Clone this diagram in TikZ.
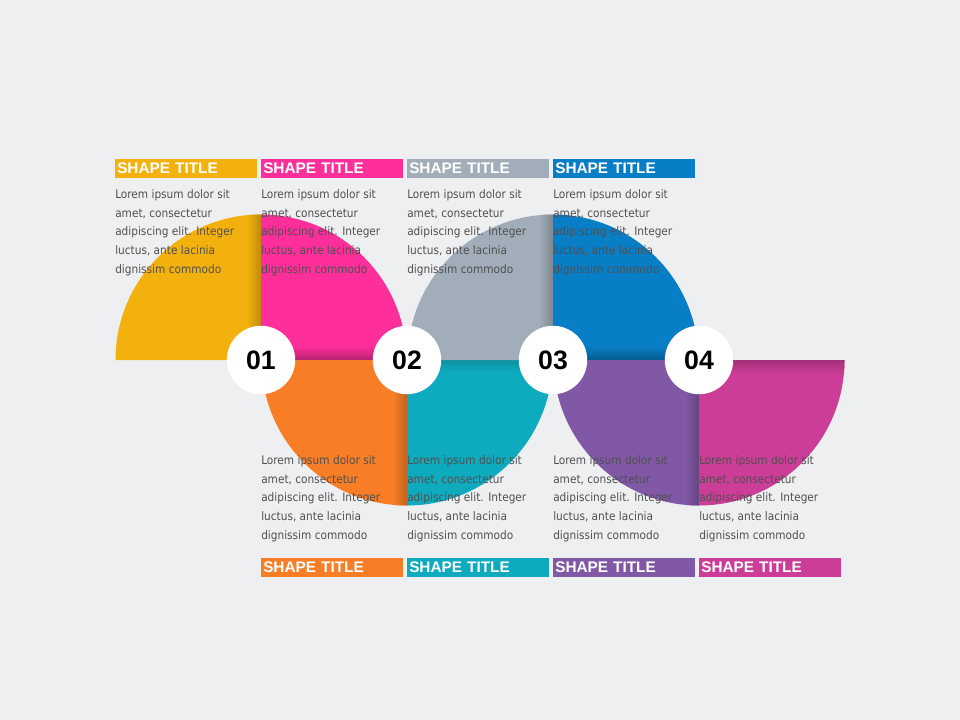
\documentclass[tikz,border=0pt]{standalone}
\usepackage{fontspec}
\setmainfont{DejaVu Sans Condensed}
\newfontfamily\headfont{Liberation Sans}
\usepackage{xcolor}
\definecolor{bgGray}{HTML}{EEEFF1}
\definecolor{txtGray}{HTML}{505050}
\definecolor{qYellow}{HTML}{F3B10D}
\definecolor{qPink}{HTML}{FE2E9B}
\definecolor{qGray}{HTML}{A1AEB9}
\definecolor{qBlue}{HTML}{087EC6}
\definecolor{qOrange}{HTML}{F77E26}
\definecolor{qTeal}{HTML}{0EAABE}
\definecolor{qPurple}{HTML}{8158A5}
\definecolor{qMagenta}{HTML}{CB3D97}
\newcommand{\loremblock}{Lorem ipsum dolor sit\\amet, consectetur\\adipiscing elit. Integer\\luctus, ante lacinia\\dignissim commodo}
\tikzset{
  titlebar/.style={fill=#1, text=white, anchor=north west, inner xsep=1.5pt, inner ysep=0pt,
    minimum height=14pt, text width=103.5pt, align=left,
    font=\headfont\bfseries\fontsize{11.5}{12}\selectfont},
  bodytext/.style={anchor=north west, inner sep=0pt, text=txtGray, align=left,
    font=\fontsize{8.8}{14}\selectfont},
  numdisc/.style={circle, fill=white, minimum size=51.3pt, inner sep=0pt,
    font=\headfont\bfseries\fontsize{20}{20}\selectfont}
}

\begin{document}
\begin{tikzpicture}[x=0.75pt,y=0.75pt,yscale=-1,xscale=1]
%set diagram to the full slide
\useasboundingbox (0,0) rectangle (960,720);
\fill[bgGray] (0,0) rectangle (960,720);

\coordinate (c1) at (261,360);
\coordinate (c2) at (407,360);
\coordinate (c3) at (553,360);
\coordinate (c4) at (699,360);

%Shape: Quarter yellow
\fill[qYellow] (c1) -- ++(180:145.5) arc[start angle=180,end angle=270,radius=145.5] -- cycle;
\begin{scope}
\clip (c1) -- ++(180:145.5) arc[start angle=180,end angle=270,radius=145.5] -- cycle;
\shade[left color=qYellow, right color=qYellow!78!black] (247,214) rectangle (261,360);
\end{scope}
%Shape: Quarter pink
\fill[qPink] (c1) -- ++(270:145.5) arc[start angle=270,end angle=360,radius=145.5] -- cycle;
\begin{scope}
\clip (c1) -- ++(270:145.5) arc[start angle=270,end angle=360,radius=145.5] -- cycle;
\shade[top color=qPink, bottom color=qPink!72!black] (261,346) rectangle (407,360);
\end{scope}
%Shape: Quarter orange
\fill[qOrange] (c2) -- ++(90:145.5) arc[start angle=90,end angle=180,radius=145.5] -- cycle;
\begin{scope}
\clip (c2) -- ++(90:145.5) arc[start angle=90,end angle=180,radius=145.5] -- cycle;
\shade[left color=qOrange, right color=qOrange!78!black] (393,360) rectangle (407,506);
\end{scope}
%Shape: Quarter teal
\fill[qTeal] (c2) -- ++(0:145.5) arc[start angle=0,end angle=90,radius=145.5] -- cycle;
\begin{scope}
\clip (c2) -- ++(0:145.5) arc[start angle=0,end angle=90,radius=145.5] -- cycle;
\shade[top color=qTeal!85!black, bottom color=qTeal] (407,360) rectangle (553,372);
\end{scope}
%Shape: Quarter gray
\fill[qGray] (c3) -- ++(180:145.5) arc[start angle=180,end angle=270,radius=145.5] -- cycle;
\begin{scope}
\clip (c3) -- ++(180:145.5) arc[start angle=180,end angle=270,radius=145.5] -- cycle;
\shade[left color=qGray, right color=qGray!78!black] (539,214) rectangle (553,360);
\end{scope}
%Shape: Quarter blue
\fill[qBlue] (c3) -- ++(270:145.5) arc[start angle=270,end angle=360,radius=145.5] -- cycle;
\begin{scope}
\clip (c3) -- ++(270:145.5) arc[start angle=270,end angle=360,radius=145.5] -- cycle;
\shade[top color=qBlue, bottom color=qBlue!72!black] (553,346) rectangle (699,360);
\end{scope}
%Shape: Quarter purple
\fill[qPurple] (c4) -- ++(90:145.5) arc[start angle=90,end angle=180,radius=145.5] -- cycle;
\begin{scope}
\clip (c4) -- ++(90:145.5) arc[start angle=90,end angle=180,radius=145.5] -- cycle;
\shade[left color=qPurple, right color=qPurple!78!black] (685,360) rectangle (699,506);
\end{scope}
%Shape: Quarter magenta
\fill[qMagenta] (c4) -- ++(0:145.5) arc[start angle=0,end angle=90,radius=145.5] -- cycle;
\begin{scope}
\clip (c4) -- ++(0:145.5) arc[start angle=0,end angle=90,radius=145.5] -- cycle;
\shade[top color=qMagenta!80!black, bottom color=qMagenta] (699,360) rectangle (845,374);
\end{scope}

% Title Nodes
\node[titlebar=qYellow] (t1) at (115,159) {SHAPE TITLE};
\node[titlebar=qPink] (t2) at (261,159) {SHAPE TITLE};
\node[titlebar=qGray] (t3) at (407,159) {SHAPE TITLE};
\node[titlebar=qBlue] (t4) at (553,159) {SHAPE TITLE};
\node[titlebar=qOrange] (t5) at (261,558) {SHAPE TITLE};
\node[titlebar=qTeal] (t6) at (407,558) {SHAPE TITLE};
\node[titlebar=qPurple] (t7) at (553,558) {SHAPE TITLE};
\node[titlebar=qMagenta] (t8) at (699,558) {SHAPE TITLE};

% Text Nodes
\node[bodytext] (b1) at (115,189.2) {\loremblock};
\node[bodytext] (b2) at (261,189.2) {\loremblock};
\node[bodytext] (b3) at (407,189.2) {\loremblock};
\node[bodytext] (b4) at (553,189.2) {\loremblock};
\node[bodytext] (b5) at (261,455.2) {\loremblock};
\node[bodytext] (b6) at (407,455.2) {\loremblock};
\node[bodytext] (b7) at (553,455.2) {\loremblock};
\node[bodytext] (b8) at (699,455.2) {\loremblock};

% Number Nodes
\node[numdisc] (n1) at (c1) {01};
\node[numdisc] (n2) at (c2) {02};
\node[numdisc] (n3) at (c3) {03};
\node[numdisc] (n4) at (c4) {04};
\end{tikzpicture}
\end{document}
